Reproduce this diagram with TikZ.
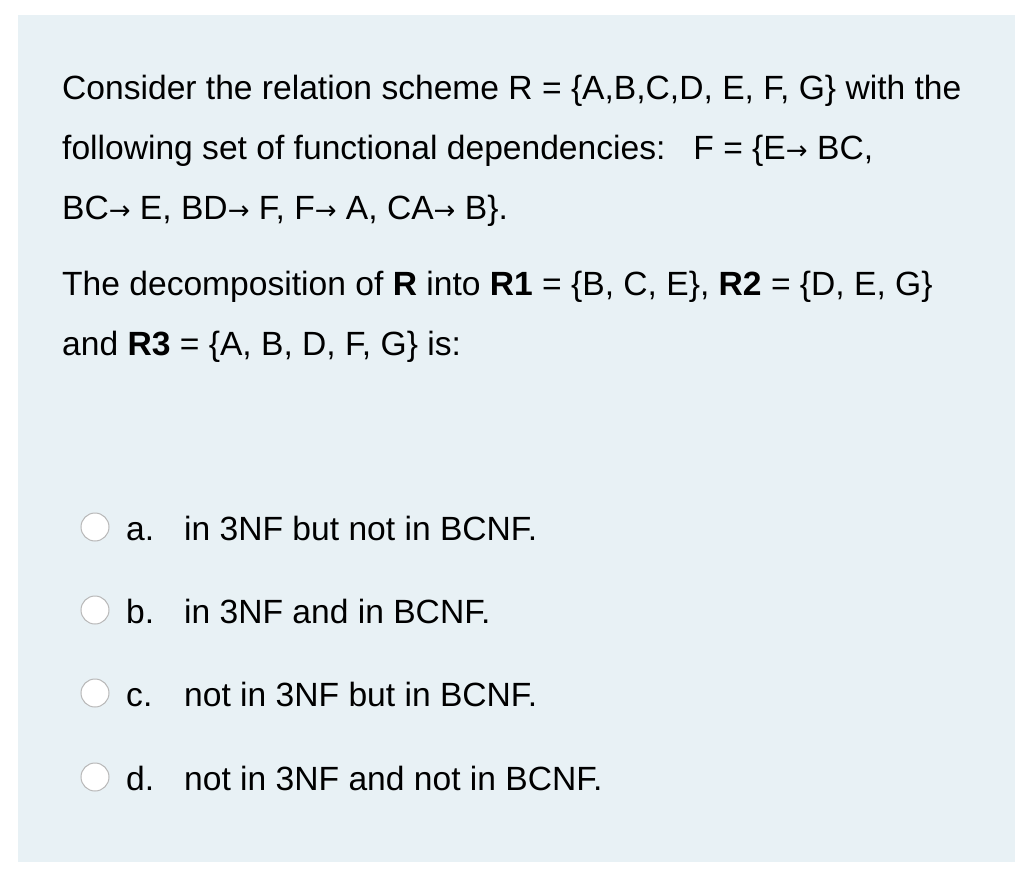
\documentclass[tikz,border=0pt]{standalone}
\usepackage{fontspec}
\setmainfont{Liberation Sans}
\newfontfamily\arfont{DejaVu Sans}
\definecolor{panel}{HTML}{E8F1F5}
\definecolor{ring}{HTML}{B8B8B8}
\newcommand{\myar}{{\arfont\fontsize{26}{30}\selectfont →}}
\begin{document}
\begin{tikzpicture}[x=1pt,y=-1pt,
  txt/.style={anchor=base west,inner sep=0pt,font=\fontsize{33.6}{38}\selectfont},
  radio/.style={circle,draw=ring,fill=white,line width=1pt,minimum size=28pt,inner sep=0pt}]
\useasboundingbox (0,0) rectangle (1024,874);
\fill[white] (0,0) rectangle (1024,874);
\fill[panel] (18,15) rectangle (1015,862);
\node[txt] (l1) at (62,100) {Consider the relation scheme R = \{A,B,C,D, E, F, G\} with the};
\node[txt] (l2) at (62,160) {following set of functional dependencies:\ \ \ F = \{E\myar\ BC,};
\node[txt] (l3) at (62,220) {BC\myar\ E, BD\myar\ F, F\myar\ A, CA\myar\ B\}.};
\node[txt] (l4) at (62,295) {The decomposition of \textbf{R} into \textbf{R1} = \{B, C, E\}, \textbf{R2} = \{D, E, G\}};
\node[txt] (l5) at (62,355) {and \textbf{R3} = \{A, B, D, F, G\} is:};
\foreach \y/\l/\t [count=\i] in {540/a./in 3NF but not in BCNF.,623/b./in 3NF and in BCNF.,706/c./not in 3NF but in BCNF.,790/d./not in 3NF and not in BCNF.}{
  \node[radio] (r\i) at (95,\y-13) {};
  \node[txt] (k\i) at (126,\y) {\l};
  \node[txt] (o\i) at (184,\y) {\t};
}
\end{tikzpicture}
\end{document}
